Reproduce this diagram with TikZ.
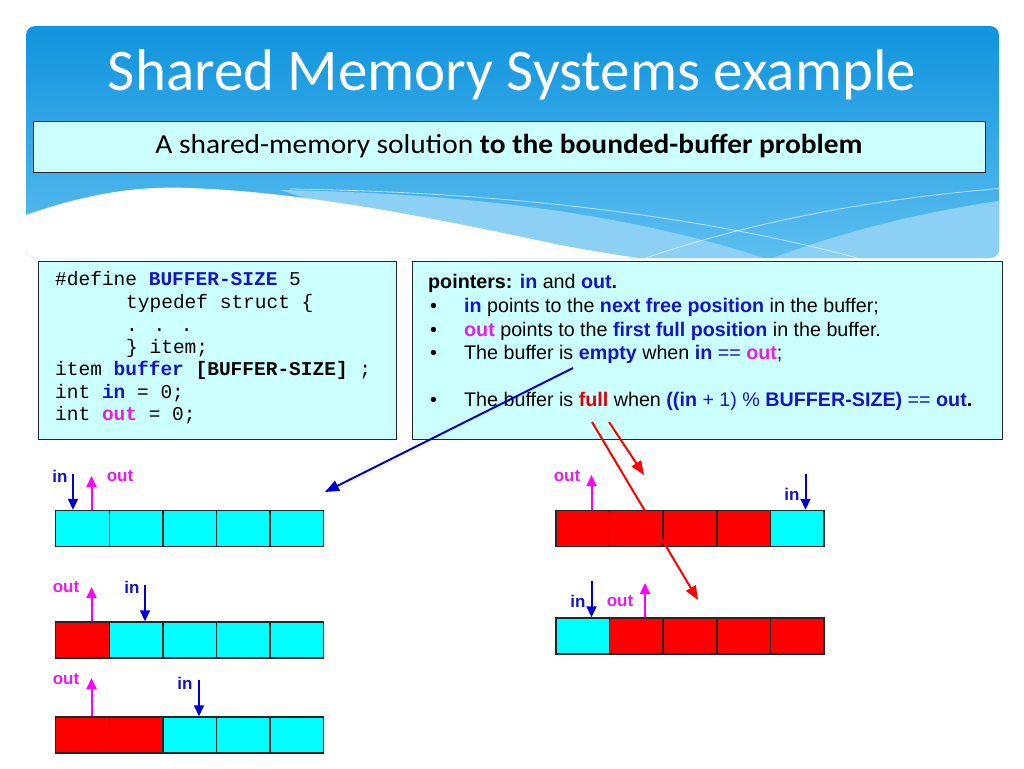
\documentclass[tikz,border=0pt]{standalone}
\usepackage{fontspec}
\setmainfont{Carlito}
\newfontfamily\arialf{Liberation Sans}
\newfontfamily\courf{Liberation Mono}
\usetikzlibrary{arrows.meta}
\definecolor{bantop}{RGB}{16,148,222}
\definecolor{banbot}{RGB}{92,190,240}
\definecolor{bandlight}{RGB}{140,208,246}
\definecolor{boxfill}{RGB}{204,255,255}
\definecolor{cellcyan}{RGB}{0,255,255}
\definecolor{cellred}{RGB}{255,0,0}
\definecolor{ptrblue}{RGB}{0,0,210}
\definecolor{ptrmag}{RGB}{255,0,255}
\definecolor{txtblue}{RGB}{20,20,200}
\definecolor{txtmag}{RGB}{230,30,230}
\definecolor{txtred}{RGB}{225,0,0}
\begin{document}
\begin{tikzpicture}[x=1pt,y=-1pt,
  infobox/.style={draw=black!85,line width=1.4pt,fill=boxfill,inner sep=0,anchor=north west},
  codeline/.style={anchor=base west,inner sep=0,font=\courf\fontsize{19.5}{22}\selectfont},
  txtline/.style={anchor=base west,inner sep=0,font=\arialf\fontsize{19.7}{22}\selectfont},
  cell/.style={draw=black!85,line width=1.5pt,minimum width=53.6pt,minimum height=36pt,inner sep=0},
  lbl/.style={inner sep=0,font=\arialf\bfseries\fontsize{17}{18}\selectfont},
  inptr/.style={draw=ptrblue,line width=2pt,-{Triangle[width=10pt,length=11pt]}},
  outptr/.style={draw=ptrmag,line width=2pt,-{Triangle[width=10pt,length=11pt]}},
  longarr/.style={line width=2pt,-{Triangle[width=11pt,length=14pt]}}
]
\useasboundingbox (0,0) rectangle (1024,768);
% banner
\begin{scope}
\clip[rounded corners=9pt] (26,26) rectangle (999,258);
\shade[top color=bantop,bottom color=banbot] (26,26) rectangle (999,258);
\fill[bandlight] (280,190) .. controls (450,193) and (620,210) .. (770,260) -- (500,260) -- cycle;
\fill[bandlight] (1005,200) .. controls (900,215) and (820,240) .. (767,260) -- (1005,260) -- cycle;
\draw[white,opacity=0.6,line width=0.8pt] (290,189) .. controls (500,192) and (700,215) .. (865,260);
\draw[white,opacity=0.6,line width=0.8pt] (1005,188) .. controls (860,200) and (740,225) .. (640,260);
\fill[white] (20,217) .. controls (90,192) and (140,186) .. (190,188)
  .. controls (300,192) and (420,215) .. (560,245)
  .. controls (620,256) and (660,262) .. (700,264) -- (20,264) -- cycle;
\end{scope}
\node[text=white,inner sep=0,anchor=base,font=\fontsize{59}{66}\selectfont] (title) at (512,90) {Shared Memory Systems example};
\node[infobox,minimum width=952pt,minimum height=51pt] (sub) at (33,121) {};
\node[inner sep=0,anchor=base,xscale=1.07,font=\fontsize{27.5}{30}\selectfont] (subtxt) at (509,153) {A shared-memory solution \textbf{to the bounded-buffer problem}};
% code box
\node[infobox,minimum width=358pt,minimum height=178pt] (code) at (38,261) {};
\node[codeline] (c1) at (55,285) {\#define \textbf{\color{txtblue}BUFFER-SIZE} 5};
\node[codeline] (c2) at (126,308) {typedef struct \{};
\node[codeline] (c3) at (126,331) {. . .};
\node[codeline] (c4) at (126,353) {\} item;};
\node[codeline] (c5) at (55,375) {item \textbf{\color{txtblue}buffer} \textbf{[BUFFER-SIZE]} ;};
\node[codeline] (c6) at (55,398) {int \textbf{\color{txtblue}in} = 0;};
\node[codeline] (c7) at (55,420) {int \textbf{\color{txtmag}out} = 0;};
% text box
\node[infobox,minimum width=590pt,minimum height=178pt] (info) at (412,261) {};
\node[txtline] (t1) at (428,288) {\textbf{pointers: \color{txtblue}in} and \textbf{{\color{txtblue}out}.}};
\node[txtline] (b2) at (430,312) {\textbullet};
\node[txtline] (t2) at (464,312) {\textbf{\color{txtblue}in} points to the \textbf{\color{txtblue}next free position} in the buffer;};
\node[txtline] (b3) at (430,336) {\textbullet};
\node[txtline] (t3) at (464,336) {\textbf{\color{txtmag}out} points to the \textbf{\color{txtblue}first full position} in the buffer.};
\node[txtline] (b4) at (430,359) {\textbullet};
\node[txtline] (t4) at (464,359) {The buffer is \textbf{\color{txtblue}empty} when \textbf{\color{txtblue}in} {\color{txtblue}==} \textbf{\color{txtmag}out};};
\node[txtline] (b5) at (430,406) {\textbullet};
\node[txtline] (t5) at (464,406) {The buffer is \textbf{\color{txtred}full} when {\color{txtblue}\textbf{((in} + 1) \% \textbf{BUFFER-SIZE)} == \textbf{out}}\textbf{.}};
% buffers
\foreach \i/\c in {1/cellcyan,2/cellcyan,3/cellcyan,4/cellcyan,5/cellcyan}
  \node[cell,fill=\c] (a\i) at ({82.5+53.6*(\i-1)},528.5) {};
\foreach \i/\c in {1/cellred,2/cellcyan,3/cellcyan,4/cellcyan,5/cellcyan}
  \node[cell,fill=\c] (b\i) at ({82.5+53.6*(\i-1)},640) {};
\foreach \i/\c in {1/cellred,2/cellred,3/cellcyan,4/cellcyan,5/cellcyan}
  \node[cell,fill=\c] (d\i) at ({82.5+53.6*(\i-1)},735) {};
\foreach \i/\c in {1/cellred,2/cellred,3/cellred,4/cellred,5/cellcyan}
  \node[cell,fill=\c] (e\i) at ({582.8+53.6*(\i-1)},528.5) {};
\foreach \i/\c in {1/cellcyan,2/cellred,3/cellred,4/cellred,5/cellred}
  \node[cell,fill=\c] (f\i) at ({582.8+53.6*(\i-1)},636) {};
% pointer labels and arrows
\node[lbl,text=txtblue] (ain) at (60,476) {in};
\node[lbl,text=txtmag] (aout) at (120,476) {out};
\coordinate (ai) at (73,474);
\coordinate (ao) at (91.5,476);
\draw[inptr] (ai) -- (ai |- a1.north);
\draw[outptr] (ao |- a1.north) -- (ao);

\node[lbl,text=txtmag] (bout) at (66,587) {out};
\node[lbl,text=txtblue] (bin) at (132,587) {in};
\coordinate (bo) at (91.5,587);
\coordinate (bi) at (145,585);
\draw[outptr] (bo |- b1.north) -- (bo);
\draw[inptr] (bi) -- (bi |- b2.north);

\node[lbl,text=txtmag] (dout) at (66,679) {out};
\node[lbl,text=txtblue] (din) at (185,683) {in};
\coordinate (do) at (91.5,678);
\coordinate (di) at (199,680);
\draw[outptr] (do |- d1.north) -- (do);
\draw[inptr] (di) -- (di |- d3.north);

\node[lbl,text=txtmag] (eout) at (567,476) {out};
\node[lbl,text=txtblue] (ein) at (792,494) {in};
\coordinate (eo) at (591.5,475);
\coordinate (ei) at (805.5,474);
\draw[outptr] (eo |- e1.north) -- (eo);
\draw[inptr] (ei) -- (ei |- e5.north);

\node[lbl,text=txtblue] (fin) at (578,601) {in};
\node[lbl,text=txtmag] (fout) at (620,601) {out};
\coordinate (fi) at (591.5,581);
\coordinate (fo) at (645,583);
\draw[inptr] (fi) -- (fi |- f1.north);
\draw[outptr] (fo |- f2.north) -- (fo);
% long arrows
\coordinate (bs) at (573,368);
\coordinate (be) at (325,492);
\draw[longarr,draw=ptrblue] (bs) -- (be);
\coordinate (rs1) at (609,422);
\coordinate (re1) at (644,475);
\draw[longarr,draw=cellred] (rs1) -- (re1);
\coordinate (rs2) at (592,422);
\coordinate (re2) at (698,600);
\draw[longarr,draw=cellred] (rs2) -- (re2);
\end{tikzpicture}
\end{document}
